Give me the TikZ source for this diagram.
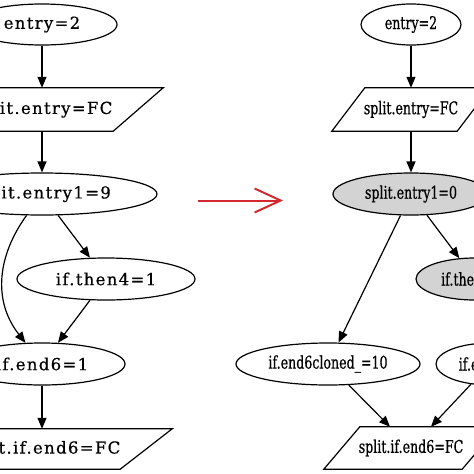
\documentclass[tikz,border=0pt]{standalone}
\usepackage{fontspec}
\usetikzlibrary{shapes.geometric,arrows.meta,calc}
\newfontfamily\lfont[LetterSpace=8,FakeBold=0.6]{DejaVu Serif}
\newfontfamily\rfont[FakeStretch=0.72,FakeBold=0.6]{DejaVu Serif}
\definecolor{gvgray}{RGB}{211,211,211}
\definecolor{arrred}{RGB}{212,40,48}
\tikzset{
  gv/.style={line width=1.2pt},
  lft/.style={font=\lfont\fontsize{16.5pt}{18pt}\selectfont},
  rgt/.style={font=\rfont\fontsize{17.5pt}{19pt}\selectfont},
  ell/.style={ellipse, draw, gv, inner sep=0pt},
  lell/.style={ell, lft},
  rell/.style={ell, rgt},
  gell/.style={ell, rgt, fill=gvgray},
  ptext/.style={rectangle, inner sep=0pt},
  edge/.style={gv, -{Triangle[length=11pt,width=9pt]}},
  redarrow/.style={draw=arrred, line width=2pt, -{Straight Barb[length=26pt,width=24pt]}}
}
% name, x, y, width, height, slant, style, text
\newcommand\mypara[8]{%
  \node[ptext,#7,minimum width=#4pt,minimum height=#5pt] (#1) at (#2,#3) {#8};
  \draw[gv] ($(#1.north west)+(#6/2,0)$) -- ($(#1.north east)+(#6/2,0)$)
    -- ($(#1.south east)+(-#6/2,0)$) -- ($(#1.south west)+(-#6/2,0)$) -- cycle;
}
\begin{document}
\begin{tikzpicture}[x=1pt,y=-1pt]
\useasboundingbox (0,0) rectangle (474,474);
\clip (0,0) rectangle (474,474);
% left graph
\node[lell, minimum width=150pt, minimum height=41pt] (e1) at (42,24.5) {entry=2};
\mypara{p1}{42}{109.5}{192}{43}{50}{lft}{split.entry=FC}
\node[lell, minimum width=230pt, minimum height=42pt] (s1) at (42,194) {split.entry1=9};
\node[lell, minimum width=178pt, minimum height=42pt] (t1) at (106,279) {if.then4=1};
\node[lell, minimum width=166pt, minimum height=42pt] (d1) at (42,364) {if.end6=1};
\mypara{p2}{42}{449}{208}{40}{52}{lft}{split.if.end6=FC}
\draw[edge] (e1) -- (p1);
\draw[edge] (p1) -- (s1);
\draw[edge] (s1) -- (t1);
\draw[edge] (s1) .. controls (-2,255) and (-8,300) .. (d1);
\draw[edge] (t1) -- (d1);
\draw[edge] (d1) -- (p2);
% red arrow
\coordinate (ra) at (198,200.5);
\coordinate (rb) at (283,200.5);
\draw[redarrow] (ra) -- (rb);
% right graph
\node[rell, minimum width=100pt, minimum height=41pt] (e2) at (411,24.5) {entry=2};
\mypara{p3}{411}{109.5}{125}{43}{33}{rgt}{split.entry=FC}
\node[gell, minimum width=156pt, minimum height=42pt] (s2) at (411,194) {split.entry1=0};
\node[gell, minimum width=118pt, minimum height=42pt] (t2) at (475,279) {if.then4=1};
\node[rell, minimum width=184pt, minimum height=42pt] (c2) at (328,364) {if.end6cloned\_=10};
\node[rell, minimum width=108pt, minimum height=42pt] (d2) at (490,364) {if.end6=1};
\mypara{p4}{411}{448}{138}{42}{36}{rgt}{split.if.end6=FC}
\draw[edge] (e2) -- (p3);
\draw[edge] (p3) -- (s2);
\draw[edge] (s2) -- (t2);
\draw[edge] (s2) -- (c2);
\draw[edge] (c2) -- (p4);
\draw[edge] (d2) -- (p4);
\end{tikzpicture}
\end{document}
